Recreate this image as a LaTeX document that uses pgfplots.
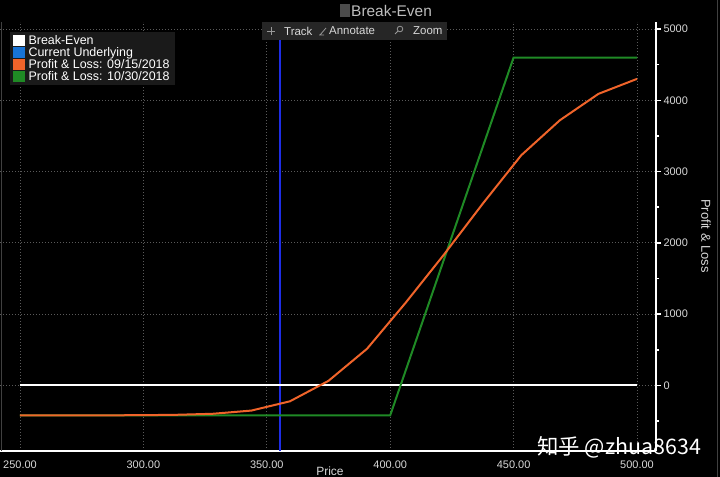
\documentclass[border=0pt]{standalone}
\usepackage{pgfplots}
\pgfplotsset{compat=1.18}
\usepackage{fontspec}
\setmainfont{Liberation Sans}
\newfontfamily\cjk{Noto Sans CJK SC}
\definecolor{plorange}{HTML}{F0642A}
\definecolor{plgreen}{HTML}{1F8A25}
\definecolor{plblue}{HTML}{1E2DE6}
\definecolor{lgblue}{HTML}{1874D6}
\definecolor{gridc}{HTML}{5A5A5A}
\definecolor{tickc}{HTML}{D8D8D8}
\definecolor{legbg}{HTML}{1A1A1A}
\definecolor{toolbg}{HTML}{262626}
\definecolor{titlec}{HTML}{BDBDBD}
\begin{document}
\begin{tikzpicture}
\fill[black] (0bp,0bp) rectangle (720bp,477bp);
\begin{axis}[
  at={(0bp,26bp)}, anchor=south west, scale only axis,
  width=656bp, height=429bp,
  xmin=241.9, xmax=507.7, ymin=-919, ymax=5098,
  axis x line=bottom, axis y line=right,
  axis line style={white, line width=1.2bp, -},
  xtick={250,300,350,400,450,500},
  xticklabels={250.00,300.00,350.00,400.00,450.00,500.00},
  ytick={0,1000,2000,3000,4000,5000},
  yticklabels={0,1000,2000,3000,4000,5000},
  minor ytick={-500,500,1500,2500,3500,4500},
  x tick style={draw=none},
  y tick style={white, line width=1.5bp},
  tick align=outside, major tick length=5bp, minor tick length=3bp,
  grid=major,
  major grid style={gridc, dash pattern=on 1bp off 2bp, line width=0.8bp},
  ticklabel style={font=\fontsize{11}{13}\selectfont, text=tickc},
  xticklabel style={yshift=-1bp},
  yticklabel style={xshift=-1bp},
  legend style={at={(rel axis cs:0.0152,0.9767)}, anchor=north west,
    fill=legbg, draw=none, text=white, inner xsep=3bp, inner ysep=1bp,
    font=\fontsize{12.5}{14}\selectfont, row sep=-2.5bp,
    /tikz/every odd column/.append style={column sep=2.5bp}},
  legend cell align=left,
  legend image code/.code={\fill[#1] (0bp,-5bp) rectangle (10.5bp,5.5bp);},
]
\addlegendimage{white}
\addlegendentry{Break-Even}
\addlegendimage{lgblue}
\addlegendentry{Current Underlying}
\addlegendimage{plorange}
\addlegendentry{Profit \& Loss: 09/15/2018}
\addlegendimage{plgreen}
\addlegendentry{Profit \& Loss: 10/30/2018}

\addplot[forget plot, plblue, line width=1.3bp] coordinates {(355.3,-919) (355.3,5098)};
\addplot[forget plot, white, line width=2bp] coordinates {(250,0) (500,0)};
\addplot[forget plot, plgreen, line width=2bp] coordinates {
  (250,-420) (400,-420) (450,4600) (500,4600)};
\addplot[forget plot, plorange, line width=2bp] coordinates {
  (250,-420) (265.625,-420) (281.25,-419) (296.875,-417) (312.5,-412)
  (328.125,-397) (343.75,-352) (359.375,-222) (375,65) (390.625,515)
  (406.25,1160) (421.875,1840) (437.5,2550) (453.125,3230)
  (468.75,3720) (484.375,4090) (500,4300)};
\end{axis}
% title
\fill[gray!60!black] (340bp,460bp) rectangle (350bp,473bp);
\node[anchor=west, inner sep=0pt, text=titlec, font=\fontsize{15.5}{17}\selectfont] at (351bp,466.5bp) {Break-Even};
% toolbar
\fill[toolbg] (262bp,437bp) rectangle (447bp,455bp);
\draw[gray!80, line width=0.8bp] (267bp,446bp) -- (275bp,446bp) (271bp,442bp) -- (271bp,450bp);
\node[anchor=west, inner sep=0pt, text=tickc, font=\fontsize{11.5}{13}\selectfont] at (284bp,446bp) {Track};
\draw[gray!80, line width=0.8bp] (320bp,442bp) -- (326bp,449bp) (319bp,442bp) -- (324bp,442bp);
\node[anchor=west, inner sep=0pt, text=tickc, font=\fontsize{11.5}{13}\selectfont] at (329bp,446bp) {Annotate};
\draw[gray!80, line width=0.8bp] (400bp,448bp) circle (2.8bp) (398bp,446bp) -- (395bp,443bp);
\node[anchor=west, inner sep=0pt, text=tickc, font=\fontsize{11.5}{13}\selectfont] at (413bp,446bp) {Zoom};
% axis labels
\node[rotate=-90, inner sep=0pt, text=tickc, font=\fontsize{13}{15}\selectfont] at (706bp,241bp) {Profit \& Loss};
\node[anchor=south, inner sep=0pt, text=tickc, font=\fontsize{12}{14}\selectfont] at (330bp,1bp) {Price};
% frame
\draw[gray!50!black, line width=1bp] (717bp,0bp) -- (717bp,477bp);
\draw[gray!50!black, line width=0.8bp] (1.5bp,26bp) -- (1.5bp,455bp);
% watermark
\node[anchor=west, inner sep=0pt, text=white, font=\cjk\fontsize{21.5}{24}\selectfont] at (537bp,30bp) {知乎 @zhua8634};
\pgfresetboundingbox
\path[use as bounding box] (0bp,0bp) rectangle (720bp,477bp);
\end{tikzpicture}
\end{document}
